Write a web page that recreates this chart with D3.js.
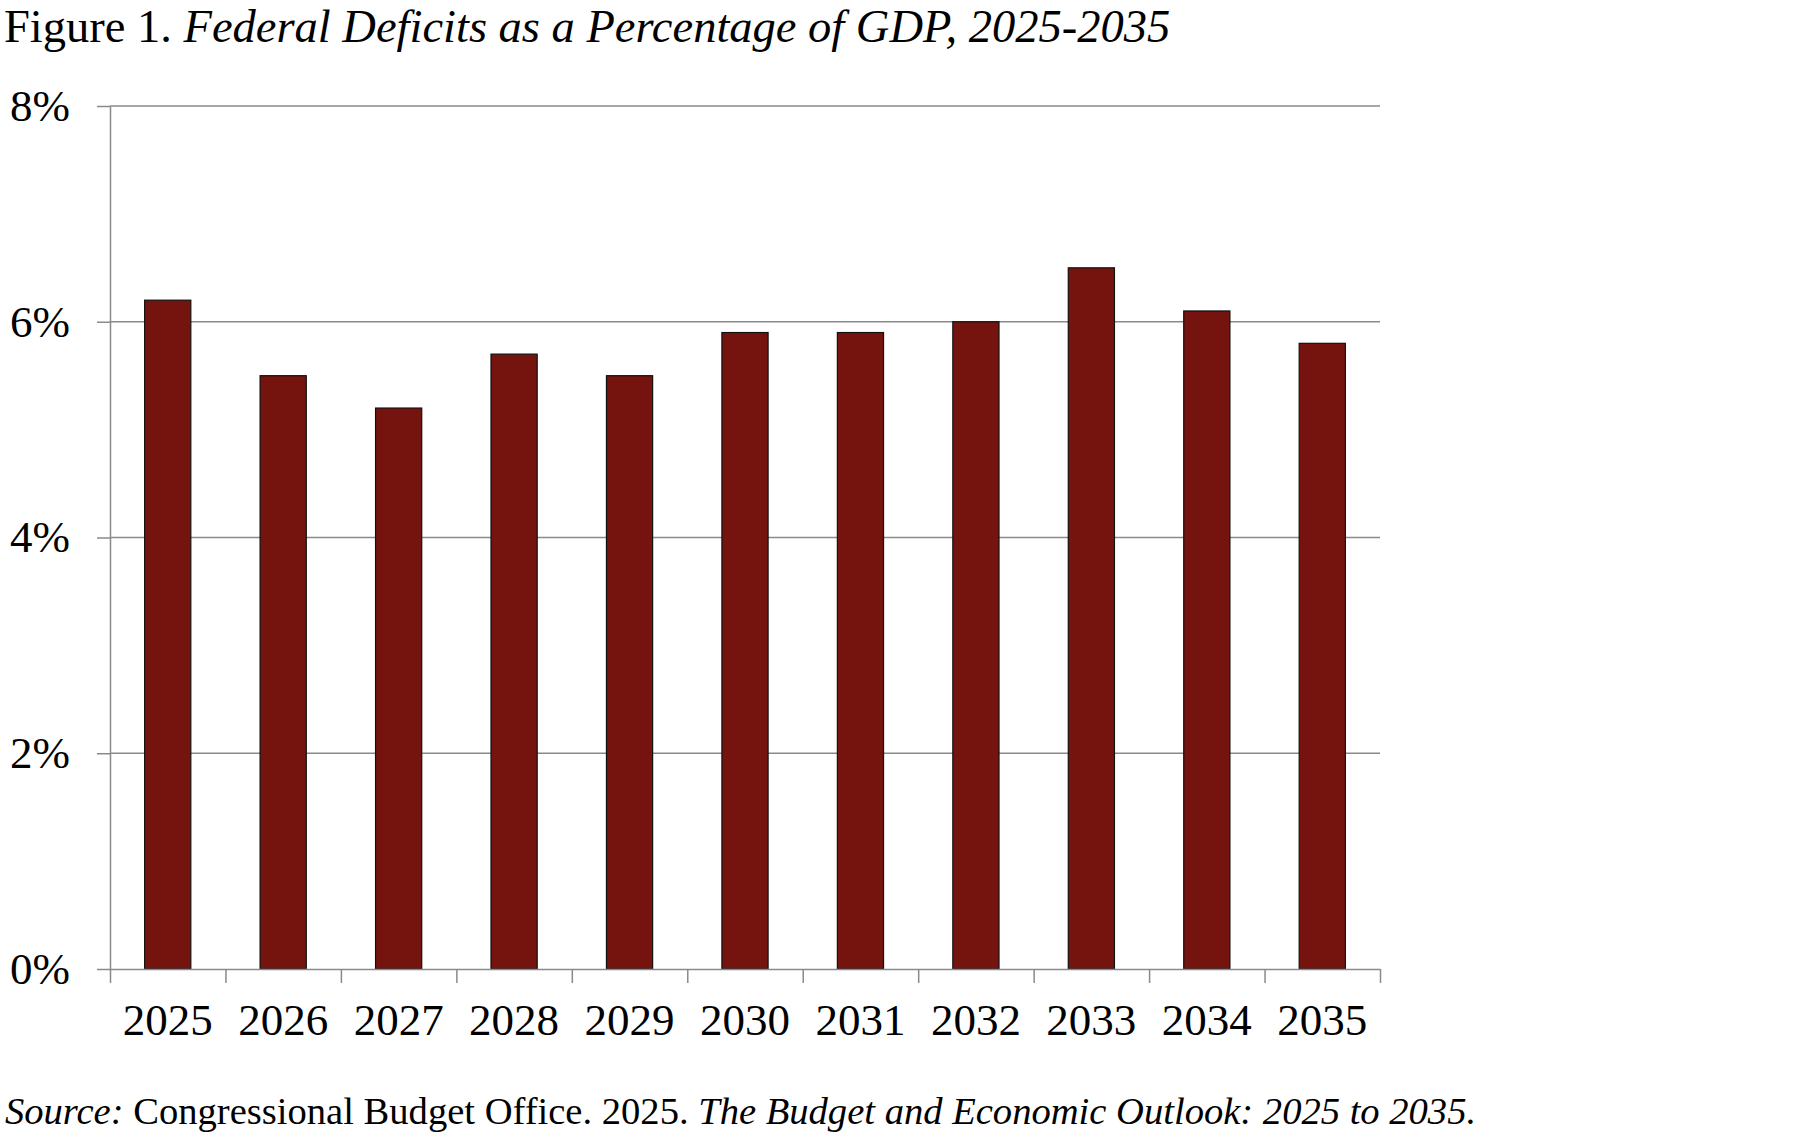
<!DOCTYPE html>
<html>
<head>
<meta charset="utf-8">
<script src="https://cdn.jsdelivr.net/npm/d3@7"></script>
<style>
  body{margin:0;background:#fff;}
  svg{display:block;font-family:"Liberation Serif","Times New Roman",serif;}
</style>
</head>
<body>
<div id="chart"></div>
<script>
const years=["2025","2026","2027","2028","2029","2030","2031","2032","2033","2034","2035"];
const deficits=[6.2,5.5,5.2,5.7,5.5,5.9,5.9,6.0,6.5,6.1,5.8];
const yTicks=[0,2,4,6,8];

const W=1800,H=1136;
const m={top:106,right:420,bottom:167,left:110};
const w=W-m.left-m.right, h=H-m.top-m.bottom;

const svg=d3.select("#chart").append("svg").attr("width",W).attr("height",H);

// title: plain label + italic text
const title=svg.append("text").attr("x",4).attr("y",42).attr("font-size",46.5).attr("fill","#000");
title.append("tspan").text("Figure 1. ");
title.append("tspan").attr("font-style","italic").text("Federal Deficits as a Percentage of GDP, 2025-2035");

const g=svg.append("g").attr("transform",`translate(${m.left},${m.top})`);

const y=d3.scaleLinear().domain([0,8]).range([h,0]);
const x=d3.scaleBand().domain(years).range([0,w]).paddingInner(0.6).paddingOuter(0.3);
const xb=d3.scaleLinear().domain([0,years.length]).range([0,w]);

// gridlines
g.selectAll(".grid").data(yTicks.filter(d=>d>0)).join("line")
  .attr("x1",0).attr("x2",w)
  .attr("y1",d=>y(d)).attr("y2",d=>y(d))
  .attr("stroke","#8a8a8a").attr("stroke-width",1.5);

// y axis
g.append("g")
  .call(d3.axisLeft(y).tickValues(yTicks).tickFormat(d=>d+"%").tickSize(13).tickSizeOuter(0).tickPadding(27))
  .call(s=>s.select(".domain").attr("stroke","#8a8a8a").attr("stroke-width",1.5))
  .call(s=>s.selectAll("line").attr("stroke","#8a8a8a").attr("stroke-width",1.5))
  .call(s=>s.selectAll("text").attr("font-size",45).attr("fill","#000").attr("font-family","Liberation Serif"));

// bars
g.selectAll(".bar").data(deficits).join("rect")
  .attr("x",(d,i)=>x(years[i]))
  .attr("y",d=>y(d))
  .attr("width",x.bandwidth())
  .attr("height",d=>h-y(d))
  .attr("fill","#75140f")
  .attr("stroke","#111")
  .attr("stroke-width",1.2);

// x axis: boundary ticks
g.append("g").attr("transform",`translate(0,${h})`)
  .call(d3.axisBottom(xb).tickValues(d3.range(years.length+1)).tickFormat("").tickSize(14).tickSizeOuter(0))
  .call(s=>s.select(".domain").attr("stroke","#8a8a8a").attr("stroke-width",1.5))
  .call(s=>s.selectAll("line").attr("stroke","#8a8a8a").attr("stroke-width",1.5));

// x labels
g.append("g").attr("transform",`translate(0,${h})`)
  .call(d3.axisBottom(x).tickSize(0).tickPadding(34))
  .call(s=>s.select(".domain").remove())
  .call(s=>s.selectAll("text").attr("font-size",45).attr("fill","#000").attr("font-family","Liberation Serif"));

// source
const src=svg.append("text").attr("x",5).attr("y",1124).attr("font-size",38.6).attr("fill","#000");
src.append("tspan").attr("font-style","italic").text("Source:");
src.append("tspan").text(" Congressional Budget Office. 2025. ");
src.append("tspan").attr("font-style","italic").text("The Budget and Economic Outlook: 2025 to 2035.");
</script>
</body>
</html>
